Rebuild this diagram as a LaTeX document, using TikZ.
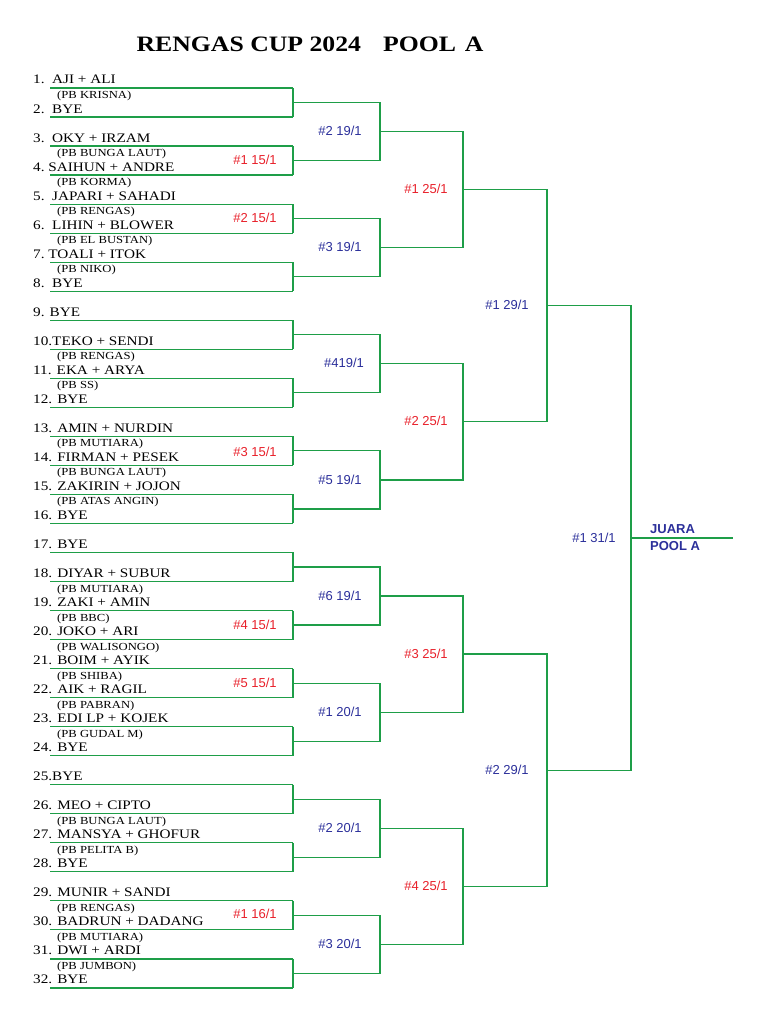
\documentclass[tikz,border=0pt]{standalone}
\usepackage{fontspec}
\setmainfont{Liberation Serif}
\newfontfamily\wide[FakeStretch=1.17]{Liberation Serif}
\newfontfamily\lab{Liberation Sans}
\definecolor{br}{HTML}{1E9E48}
\definecolor{lb}{HTML}{2B2F9A}
\definecolor{lr}{HTML}{E8202A}
\begin{document}
\begin{tikzpicture}[x=1pt,y=-1pt,
  br/.style={draw=br,line width=1.2pt},
  ent/.style={anchor=base west,inner sep=0,font=\wide\fontsize{13}{13}\selectfont},
  club/.style={anchor=base west,inner sep=0,font=\wide\fontsize{10.8}{11}\selectfont},
  bl/.style={font=\lab\fontsize{13}{13}\selectfont,text=lb,inner sep=0},
  rd/.style={font=\lab\fontsize{13}{13}\selectfont,text=lr,inner sep=0}]
\useasboundingbox (0,0) rectangle (768,1024);
\node[font=\wide\bfseries\fontsize{22}{22}\selectfont,anchor=base] (title) at (310,52) {RENGAS CUP 2024\hspace{1em}POOL\hspace{0.4em}A};
% entries
\foreach \i/\t in {1/{1.\ \ AJI + ALI},2/{2.\ \ BYE},3/{3.\ \ OKY + IRZAM},4/{4.\ SAIHUN + ANDRE},5/{5.\ \ JAPARI + SAHADI},6/{6.\ \ LIHIN + BLOWER},7/{7.\ TOALI + ITOK},8/{8.\ \ BYE},9/{9. BYE},10/{10.TEKO + SENDI},11/{11. EKA + ARYA},12/{12. BYE},13/{13. AMIN + NURDIN},14/{14. FIRMAN + PESEK},15/{15. ZAKIRIN + JOJON},16/{16. BYE},17/{17. BYE},18/{18. DIYAR + SUBUR},19/{19. ZAKI + AMIN},20/{20. JOKO + ARI},21/{21. BOIM + AYIK},22/{22. AIK + RAGIL},23/{23. EDI LP + KOJEK},24/{24. BYE},25/{25.BYE},26/{26. MEO + CIPTO},27/{27. MANSYA + GHOFUR},28/{28. BYE},29/{29. MUNIR + SANDI},30/{30. BADRUN + DADANG},31/{31. DWI + ARDI},32/{32. BYE}}{
  \pgfmathsetmacro\yy{88+(\i-1)*29.03}
  \node[ent] (e\i) at (33,\yy-4) {\t};
  \coordinate (a\i) at (50,\yy);
  \coordinate (o0-\i) at (293,\yy);
  \draw[br] (a\i) -- (o0-\i);
}
\foreach \i/\t in {1/KRISNA,3/BUNGA LAUT,4/KORMA,5/RENGAS,6/EL BUSTAN,7/NIKO,10/RENGAS,11/SS,13/MUTIARA,14/BUNGA LAUT,15/ATAS ANGIN,18/MUTIARA,19/BBC,20/WALISONGO,21/SHIBA,22/PABRAN,23/GUDAL M,26/BUNGA LAUT,27/PELITA B,29/RENGAS,30/MUTIARA,31/JUMBON}{
  \pgfmathsetmacro\yy{88+(\i-1)*29.03+10.5}
  \node[club] (c\i) at (57,\yy) {(PB \t)};
}
% round 1 (vertical joins at x=293)
\foreach \k in {1,...,16}{
  \pgfmathtruncatemacro\p{2*\k-1}\pgfmathtruncatemacro\q{2*\k}
  \pgfmathsetmacro\yy{88+((\k-0.5)*2-0.5)*29.03}
  \coordinate (o1-\k) at (293,\yy);
  \draw[br] (o0-\p) -- (o0-\q);
}
% later rounds
\foreach \L/\xp/\xx/\n in {2/293/380/8,3/380/463/4,4/463/547/2,5/547/631/1}{
  \pgfmathtruncatemacro\Lm{\L-1}
  \foreach \k in {1,...,\n}{
    \pgfmathtruncatemacro\p{2*\k-1}\pgfmathtruncatemacro\q{2*\k}
    \pgfmathsetmacro\yy{88+((\k-0.5)*2^\L-0.5)*29.03}
    \coordinate (o\L-\k) at (\xx,\yy);
    \draw[br] (o\Lm-\p) -- (o\Lm-\p -| o\L-\k) -- (o\Lm-\q -| o\L-\k) -- (o\Lm-\q);
  }
}
\coordinate (fin) at (733,0 |- o5-1);
\draw[br] (o5-1) -- (fin);
% labels
\foreach \x/\y/\t/\s/\nm in {
 340/131/{\#2 19/1}/bl/g1, 255/160/{\#1 15/1}/rd/g2, 426/189/{\#1 25/1}/rd/g3,
 255/218/{\#2 15/1}/rd/g4, 340/247/{\#3 19/1}/bl/g5, 507/305/{\#1 29/1}/bl/g6,
 344/363/{\#419/1}/bl/g7, 426/421/{\#2 25/1}/rd/g8, 255/452/{\#3 15/1}/rd/g9,
 340/480/{\#5 19/1}/bl/g10, 594/538/{\#1 31/1}/bl/g11, 340/596/{\#6 19/1}/bl/g12,
 255/625/{\#4 15/1}/rd/g13, 426/654/{\#3 25/1}/rd/g14, 255/683/{\#5 15/1}/rd/g15,
 340/712/{\#1 20/1}/bl/g16, 507/770/{\#2 29/1}/bl/g17, 340/828/{\#2 20/1}/bl/g18,
 426/886/{\#4 25/1}/rd/g19, 255/914/{\#1 16/1}/rd/g20, 340/944/{\#3 20/1}/bl/g21}{
  \node[\s] (\nm) at (\x,\y) {\t};
}
\node[bl,font=\lab\bfseries\fontsize{13}{13}\selectfont,anchor=west] (j1) at (650,529) {JUARA};
\node[bl,font=\lab\bfseries\fontsize{13}{13}\selectfont,anchor=west] (j2) at (650,546) {POOL A};
\end{tikzpicture}
\end{document}
